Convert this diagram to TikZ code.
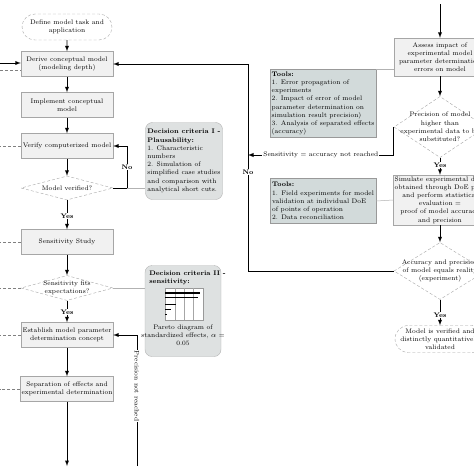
\documentclass[tikz,border=0pt]{standalone}
\usepackage{tikz}
\usepackage{amsmath}
\usetikzlibrary{shapes, calc, positioning}

\definecolor{boxgray}{RGB}{241,241,241}
\definecolor{critgray}{RGB}{222,225,225}
\definecolor{toolgray}{RGB}{210,218,218}
\newcommand{\fsmall}{\fontsize{6.6}{8.2}\selectfont}

\tikzset{
  proc/.style={rectangle, draw=gray!70, fill=boxgray, minimum width=92pt, minimum height=25pt, align=center, inner sep=1pt},
  term/.style={rounded rectangle, draw=gray!70, densely dashed, fill=white, minimum width=92pt, minimum height=26pt, align=center, inner sep=1pt},
  dec/.style={diamond, draw=gray!70, densely dashed, fill=white, minimum width=92pt, inner sep=0pt},
  crit/.style={rectangle, rounded corners=7pt, draw=gray!60, fill=critgray, align=left, inner sep=2pt},
  tool/.style={rectangle, draw=gray!80, fill=toolgray, align=left, inner sep=2pt},
  arr/.style={-latex, line width=0.9pt},
  note/.style={gray!60, line width=0.5pt},
  feed/.style={gray, densely dashed, line width=0.5pt},
  tag/.style={font=\fsmall\bfseries, fill=white, inner sep=1pt},
  lbl/.style={fill=white, inner sep=1pt},
}

\begin{document}
\begin{tikzpicture}[x=1pt, y=-1pt, font=\fsmall]
  \useasboundingbox (0,0) rectangle (474,474);
  \clip (0,0) rectangle (474,474);

  % Left column
  \node[term] (task) at (67,27) {Define model task and\\application};
  \node[proc] (concept) at (67,64) {Derive conceptual model\\(modeling depth)};
  \node[proc] (impl) at (67,105) {Implement conceptual\\model};
  \node[proc] (verify) at (67,146) {Verify computerized model};
  \node[dec, minimum height=24pt, label={center:Model verified?}] (verified) at (67,188) {};
  \node[proc] (sens) at (67,242) {Sensitivity Study};
  \node[dec, minimum height=25pt, label={[align=center]center:{Sensitivity fits\\expectations?}}] (fits) at (67,288) {};
  \node[proc] (establish) at (67,335) {Establish model parameter\\determination concept};
  \node[proc] (sep) at (67,389) {Separation of effects and\\experimental determination};
  \coordinate (sepend) at (67,466);

  % Decision criteria
  \node[crit, minimum width=76pt, minimum height=77pt] (crit1) at (184,161) {\textbf{Decision criteria I -}\\\textbf{Plausability:}\\1. Characteristic\\numbers\\2. Simulation of\\simplified case studies\\and comparison with\\analytical short cuts.};
  \node[crit, minimum width=76pt, minimum height=91pt] (crit2) at (183,311) {};
  \node[anchor=north west, align=left, font=\fsmall\bfseries] (crit2t) at ($(crit2.north west)+(1,2)$) {Decision criteria II -\\sensitivity:};
  \node[align=center] (pareto) at (183,335) {Pareto diagram of\\standardized effects, $\alpha$ =\\0.05};

  % Pareto chart
  \draw[gray!80, fill=white] (165,288) rectangle (203,320);
  \draw[gray!70] (175,288) -- (175,320) (184,288) -- (184,320) (193.5,288) -- (193.5,320);
  \draw[line width=1.5pt] (165,293) -- (200,293);
  \draw[line width=1.5pt] (165,297.5) -- (198,297.5);
  \draw[line width=1pt] (165,304) -- (176,304);
  \draw[line width=1pt] (165,309) -- (171,309);
  \draw[line width=1pt] (165,314) -- (167,314);

  % Right column
  \coordinate (topin) at (440,4);
  \node[proc, minimum height=38pt] (assess) at (440,57) {Assess impact of\\experimental model\\parameter determination\\errors on model};
  \node[dec, minimum height=61pt, label={[align=center]center:{Precision of model\\higher than\\experimental data to be\\substituted?}}] (prec) at (440,127) {};
  \node[proc, minimum height=50pt] (simul) at (440,200) {Simulate experimental data\\obtained through DoE plan\\and perform statistical\\evaluation =\\proof of model accuracy\\and precision};
  \node[dec, minimum height=57pt, label={[align=center]center:{Accuracy and precision\\of model equals reality\\(experiment)}}] (acc) at (440,271) {};
  \node[term, minimum height=27pt] (done) at (440,339) {Model is verified and\\distinctly quantitatively\\validated};

  % Tools
  \node[tool, minimum width=102pt, minimum height=67pt] (tools1) at (323,103.5) {\textbf{Tools:}\\1. Error propagation of\\experiments\\2. Impact of error of model\\parameter determination on\\simulation result precision)\\3. Analysis of separated effects\\(accuracy)};
  \node[tool, minimum width=102pt, minimum height=45pt] (tools2) at (323,201) {\textbf{Tools:}\\1. Field experiments for model\\validation at individual DoE\\of points of operation\\2. Data reconciliation};

  % Edges
  \draw[arr] (task) -- (concept);
  \draw[arr] (concept) -- (impl);
  \draw[arr] (impl) -- (verify);
  \draw[arr] (verify) -- (verified);
  \draw[arr] (verified) -- (sens);
  \draw[arr] (sens) -- (fits);
  \draw[arr] (fits) -- (establish);
  \draw[arr] (establish) -- (sep);
  \draw[arr] (sep) -- (sepend);
  \draw[arr] (verified.east) -- ++(14,0) |- (verify.east);

  \coordinate (precin) at (137,466);
  \draw[arr] (precin) |- (establish.east);

  \draw[arr] (topin) -- (assess);
  \draw[arr] (assess) -- (prec);
  \draw[arr] (prec) -- (simul);
  \draw[arr] (simul) -- (acc);
  \draw[arr] (acc) -- (done);

  \coordinate (loopc) at (248,64);
  \coordinate (sensx) at (248,155);
  \draw[arr] (acc.west) -| (loopc) -- (concept.east);
  \draw[arr] (prec.west) |- (sensx) node[lbl, pos=0.75] {Sensitivity = accuracy not reached};

  % Notes
  \draw[note] ($(verified.east)+(14,0)$) -- (verified.east -| crit1.west);
  \draw[note] (fits.east) -- (fits.east -| crit2.west);
  \draw[note] (tools1.north east) -- (tools1.north east -| assess.west);
  \draw[note] (tools2.east) -- (simul.west);

  % Feeds from the left
  \coordinate (rim) at (0,0);
  \coordinate (in1) at (0,63);
  \coordinate (in2) at (0,70);
  \draw[arr] (in1) -- (in1 -| concept.west);
  \draw[feed] (in2) -- (in2 -| concept.west);
  \draw[feed] (verify.west) -- (verify.west -| rim);
  \draw[feed] (sens.west) -- (sens.west -| rim);
  \draw[feed] (fits.west) -- (fits.west -| rim);
  \draw[feed] (establish.west) -- (establish.west -| rim);
  \draw[feed] (sep.west) -- (sep.west -| rim);

  % Labels
  \node[tag] (yes1) at (67,216) {Yes};
  \node[tag] (yes2) at (67,312) {Yes};
  \node[tag] (yes3) at (440,165) {Yes};
  \node[tag] (yes4) at (440,315) {Yes};
  \node[tag] (no1) at (127,167) {No};
  \node[tag] (no2) at (248,172) {No};
  \node[lbl, rotate=-90] (pnr) at (137,386) {Precision not reached};
\end{tikzpicture}
\end{document}
